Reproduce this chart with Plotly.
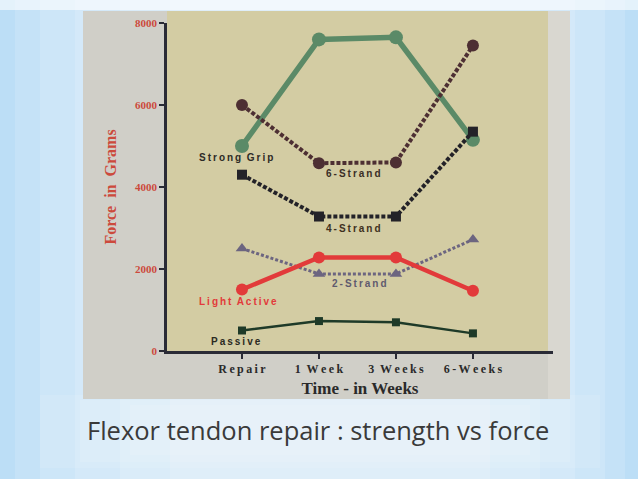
import plotly.graph_objects as go

categories = ["Repair", "1 Week", "3 Weeks", "6-Weeks"]
tick_labels = ["Repair", "1  Week", "3  Weeks", "6-Weeks"]
x_pos = [1, 2, 3, 4]

strong_grip = [5000, 7600, 7650, 5150]
six_strand = [6000, 4580, 4600, 7450]
four_strand = [4300, 3280, 3280, 5350]
two_strand = [2500, 1880, 1880, 2720]
light_active = [1500, 2280, 2280, 1470]
passive = [500, 730, 700, 430]

y_ticks = [0, 2000, 4000, 6000, 8000]

W, H = 638, 479
L, R, T, B = 167, 85, 23, 128
PW, PH = W - L - R, H - T - B
TS = "\u2009"  # thin space for letter spacing


def spaced(s):
    out = []
    for i, ch in enumerate(s):
        out.append(ch)
        if i < len(s) - 1 and ch != " " and s[i + 1] != " ":
            out.append(TS)
    return "".join(out)


def px(xp):
    return (xp - L) / PW


def py(yp):
    return 1 - (yp - T) / PH


fig = go.Figure()

fig.add_trace(go.Scatter(x=x_pos, y=two_strand, mode="lines+markers",
                         line=dict(color="#6c6580", width=3, dash="3px,2px"),
                         marker=dict(symbol="triangle-up", size=11, color="#6c6580")))
fig.add_trace(go.Scatter(x=x_pos, y=light_active, mode="lines+markers",
                         line=dict(color="#e23a3a", width=4.5),
                         marker=dict(symbol="circle", size=12, color="#e23a3a")))
fig.add_trace(go.Scatter(x=x_pos, y=passive, mode="lines+markers",
                         line=dict(color="#1e3a28", width=2.5),
                         marker=dict(symbol="square", size=8, color="#1e3a28")))
fig.add_trace(go.Scatter(x=x_pos, y=strong_grip, mode="lines+markers",
                         line=dict(color="#5b8a67", width=5.5),
                         marker=dict(symbol="circle", size=14, color="#5b8a67")))
fig.add_trace(go.Scatter(x=x_pos, y=six_strand, mode="lines+markers",
                         line=dict(color="#4d2f33", width=4, dash="4px,2px"),
                         marker=dict(symbol="circle", size=12, color="#4d2f33")))
fig.add_trace(go.Scatter(x=x_pos, y=four_strand, mode="lines+markers",
                         line=dict(color="#232228", width=4, dash="4px,2px"),
                         marker=dict(symbol="square", size=10, color="#232228")))

shapes = []
# slide background: soft horizontal gradient, lighter towards the middle
for (a, b) in [(0, 638), (15, 625), (40, 605), (75, 575), (120, 540), (170, 490)]:
    shapes.append(dict(type="rect", xref="paper", yref="paper", x0=px(a), x1=px(b),
                       y0=py(0), y1=py(H), fillcolor="#ffffff", opacity=0.14,
                       line_width=0, layer="below"))
shapes.append(dict(type="rect", xref="paper", yref="paper", x0=px(0), x1=px(W), y0=py(0), y1=py(10),
                   fillcolor="#ffffff", opacity=0.6, line_width=0, layer="below"))
for (a, b, c, d) in [(40, 600, 395, 468), (80, 570, 400, 462), (130, 530, 405, 455)]:
    shapes.append(dict(type="rect", xref="paper", yref="paper", x0=px(a), x1=px(b),
                       y0=py(c), y1=py(d), fillcolor="#ffffff", opacity=0.1,
                       line_width=0, layer="below"))
# photo of chart
shapes += [
    dict(type="rect", xref="paper", yref="paper", x0=px(83), x1=px(570), y0=py(11), y1=py(399),
         fillcolor="#d0cfc8", line_width=0, layer="below"),
    dict(type="rect", xref="paper", yref="paper", x0=px(548), x1=px(570), y0=py(11), y1=py(399),
         fillcolor="#d9d7d0", line_width=0, layer="below"),
    dict(type="rect", xref="paper", yref="paper", x0=px(167), x1=px(548), y0=py(11), y1=py(351),
         fillcolor="#d3cca3", line_width=0, layer="below"),
]

annotations = [
    dict(text="Strong  Grip", x=0.92, y=4720, color="#2c2a26"),
    dict(text="6-Strand", x=2.45, y=4330, color="#3a2e26"),
    dict(text="4-Strand", x=2.45, y=2990, color="#3e3020"),
    dict(text="2-Strand", x=2.52, y=1655, color="#5f5a6e"),
    dict(text="Light  Active", x=0.95, y=1216, color="#e23a3a"),
    dict(text="Passive", x=0.92, y=220, color="#2b2a22"),
]
ann = [dict(x=a["x"], y=a["y"], xref="x", yref="y", text="<b>" + spaced(a["text"]) + "</b>",
            xanchor="center", yanchor="middle",
            showarrow=False, font=dict(family="Liberation Sans", size=10, color=a["color"]))
       for a in annotations]
ann.append(dict(x=px(318), y=py(430), xref="paper", yref="paper", xanchor="center", yanchor="middle",
                text="Flexor tendon repair : strength vs force", showarrow=False,
                font=dict(family="Open Sans", size=25.5, color="#3a3a3a")))

fig.update_layout(
    width=W, height=H,
    margin=dict(l=L, r=R, t=T, b=B),
    paper_bgcolor="#b1d9f5",
    plot_bgcolor="rgba(0,0,0,0)",
    showlegend=False,
    shapes=shapes,
    annotations=ann,
    xaxis=dict(range=[0.026, 5.04], tickvals=x_pos,
               ticktext=["<b>" + spaced(t) + "</b>" for t in tick_labels],
               showgrid=False, zeroline=False, showline=True, linecolor="#2a2b36", linewidth=3,
               ticks="outside", ticklen=5, tickcolor="#2a2b36", tickwidth=1.5,
               tickfont=dict(family="Liberation Serif", size=12, color="#2a2a2a"),
               title=dict(text="<b>Time - in Weeks</b>", standoff=7,
                          font=dict(family="Liberation Serif", size=17, color="#2a2a2a"))),
    yaxis=dict(range=[0, 8000], tickvals=y_ticks, showgrid=False, zeroline=False,
               showline=True, linecolor="#2a2b36", linewidth=2.5,
               ticks="outside", ticklen=5, tickcolor="#2a2b36", tickwidth=1.5,
               tickfont=dict(family="Liberation Serif", size=11, color="#cc4a3c", weight="bold"),
               title=dict(text="<b>Force  in  Grams</b>", standoff=15,
                          font=dict(family="Liberation Serif", size=16, color="#cc4a3c"))),
)

fig.write_html("out.html", config={"displayModeBar": False},
               post_script="document.body.style.margin='0';document.body.style.padding='0';document.body.style.overflow='hidden';")
